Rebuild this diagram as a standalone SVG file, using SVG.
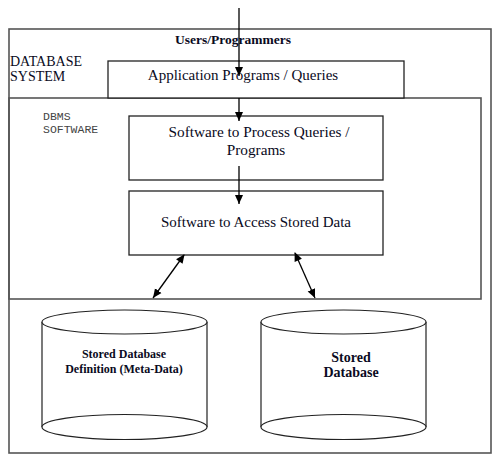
<svg xmlns="http://www.w3.org/2000/svg" width="503" height="464" viewBox="0 0 503 464">
<style>
.frame{fill:none;stroke:#555;stroke-width:1.6}
.box{fill:#fff;stroke:#222;stroke-width:1.3}
.cyl{fill:#fff;stroke:#222;stroke-width:1.2}
.t{font-family:"Liberation Serif","Times New Roman",serif;fill:#0a0a22;text-anchor:middle}
.b{font-weight:bold}
.mono{font-family:"Liberation Mono","Courier New",monospace;fill:#444;font-size:11.5px}
.conn{stroke:#000;stroke-width:1.3;fill:none}
</style>
<defs>
<marker id="ah" markerWidth="10" markerHeight="10" refX="9" refY="5" orient="auto" markerUnits="userSpaceOnUse">
<path d="M0,1 L9,5 L0,9 Z" fill="#000"/>
</marker>
<marker id="as" markerWidth="10" markerHeight="10" refX="1" refY="5" orient="auto" markerUnits="userSpaceOnUse">
<path d="M9,1 L0,5 L9,9 Z" fill="#000"/>
</marker>
</defs>
<rect width="503" height="464" fill="#fff"/>
<g id="database-system">
<rect class="frame" x="9" y="29" width="482" height="424"/>
<text class="t b" x="233" y="44" font-size="13.5">Users/Programmers</text>
<text class="t" x="10" y="66" font-size="14" style="text-anchor:start">DATABASE</text>
<text class="t" x="10" y="81" font-size="14" style="text-anchor:start">SYSTEM</text>
</g>
<g id="dbms-software">
<rect class="frame" x="9" y="98" width="472" height="201"/>
<text class="mono" x="43" y="120">DBMS</text>
<text class="mono" x="43" y="133">SOFTWARE</text>
</g>
<g id="app-programs">
<rect class="box" x="108" y="61" width="296" height="37"/>
<text class="t" x="243" y="80" font-size="15">Application Programs / Queries</text>
</g>
<g id="process-queries">
<rect class="box" x="129" y="116" width="254" height="64"/>
<text class="t" x="259" y="137" font-size="15.3">Software to Process Queries /</text>
<text class="t" x="256" y="155" font-size="15.3">Programs</text>
</g>
<g id="access-data">
<rect class="box" x="129" y="191" width="254" height="64"/>
<text class="t" x="256" y="227" font-size="15">Software to Access Stored Data</text>
</g>
<g id="meta-data">
<path class="cyl" d="M42,322 L42,427 A82.5,12.5 0 0 0 207,427 L207,322"/>
<ellipse class="cyl" cx="124.5" cy="322" rx="82.5" ry="12"/>
<path class="cyl" d="M42,427 A82.5,12.5 0 0 1 207,427"/>
<text class="t b" x="124" y="358" font-size="12">Stored Database</text>
<text class="t b" x="124" y="373" font-size="12">Definition (Meta-Data)</text>
</g>
<g id="stored-database">
<path class="cyl" d="M261,322 L261,427 A82.5,12.5 0 0 0 426,427 L426,322"/>
<ellipse class="cyl" cx="343.5" cy="322" rx="82.5" ry="12"/>
<path class="cyl" d="M261,427 A82.5,12.5 0 0 1 426,427"/>
<text class="t b" x="351" y="362" font-size="14">Stored</text>
<text class="t b" x="351" y="377" font-size="14">Database</text>
</g>
<g id="connectors">
<line class="conn" x1="239" y1="8" x2="239" y2="76" marker-end="url(#ah)"/>
<line class="conn" x1="239" y1="98" x2="239" y2="121" marker-end="url(#ah)"/>
<line class="conn" x1="239" y1="166" x2="239" y2="204" marker-end="url(#ah)"/>
<line class="conn" x1="184" y1="255" x2="153" y2="298" marker-start="url(#as)" marker-end="url(#ah)"/>
<line class="conn" x1="295" y1="253" x2="315" y2="298" marker-start="url(#as)" marker-end="url(#ah)"/>
</g>
</svg>
